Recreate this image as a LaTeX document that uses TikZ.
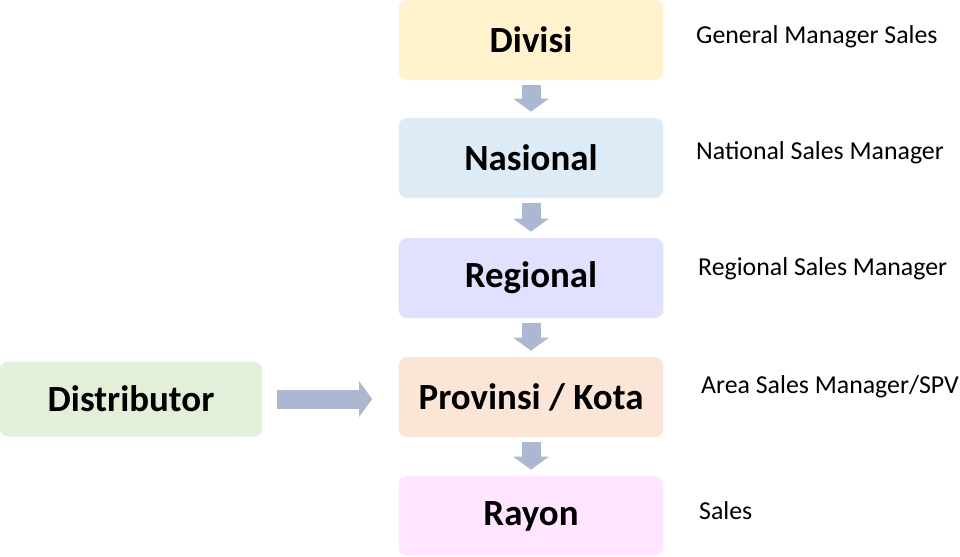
\documentclass[tikz,border=0pt]{standalone}
\usepackage{fontspec}
\setmainfont{Carlito}
\usetikzlibrary{arrows.meta}

\begin{document}
\begin{tikzpicture}[x=0.02cm,y=-0.02cm]
                    % Styles
                    \tikzset{
                        lvl/.style={rounded corners=5pt, minimum width=5.3cm, minimum height=1.6cm, font=\fontsize{21}{24}\selectfont\bfseries},
                        role/.style={anchor=west, font=\fontsize{14.7}{17}\selectfont},
                        blk/.style={line width=0.38cm, draw={rgb,255:red,172;green,184;blue,210}, -{Triangle[length=0.26cm,width=0.7cm]}, shorten <=0.1cm, shorten >=0.12cm}
                    }
                    \useasboundingbox (0,0) rectangle (960,556);

                    % Level boxes
                    \node[lvl, fill={rgb,255:red,255;green,242;blue,204}] (div) at (531,40) {Divisi};
                    \node[lvl, fill={rgb,255:red,221;green,235;blue,247}] (nas) at (531,158) {Nasional};
                    \node[lvl, fill={rgb,255:red,224;green,224;blue,255}] (reg) at (531,278) {Regional};
                    \node[lvl, fill={rgb,255:red,251;green,229;blue,214}] (prov) at (531,397) {Provinsi / Kota};
                    \node[lvl, fill={rgb,255:red,255;green,229;blue,255}] (ray) at (531,516) {Rayon};

                    % Distributor box
                    \node[lvl, minimum width=5.26cm, minimum height=1.5cm, fill={rgb,255:red,226;green,240;blue,217}] (dist) at (131,399) {Distributor};

                    % Arrows
                    \draw[blk] (div) -- (nas);
                    \draw[blk] (nas) -- (reg);
                    \draw[blk] (reg) -- (prov);
                    \draw[blk] (prov) -- (ray);
                    \draw[blk, shorten <=0.28cm, shorten >=0.52cm] (dist) -- (dist -| prov.west);

                    % Roles
                    \node[role] (r1) at (690,37) {General Manager Sales};
                    \node[role] (r2) at (690,153) {National Sales Manager};
                    \node[role] (r3) at (692,269) {Regional Sales Manager};
                    \node[role] (r4) at (695,387) {Area Sales Manager/SPV};
                    \node[role] (r5) at (693,511) {Sales};
\end{tikzpicture}
\end{document}
